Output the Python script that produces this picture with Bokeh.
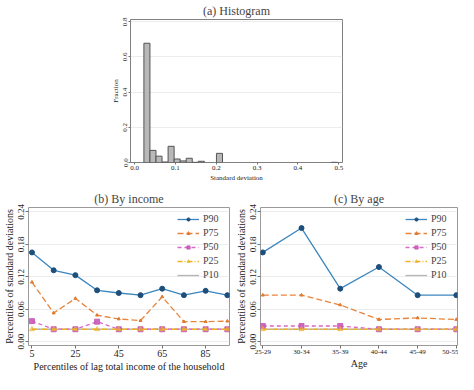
from bokeh.plotting import figure
from bokeh.layouts import column, row
from bokeh.models import FixedTicker, NumeralTickFormatter, Legend, LegendItem, Range1d
from bokeh.embed import file_html
from bokeh.resources import INLINE

SERIF = "Liberation Serif"

# ---------------- data ----------------
hist_left = [0.0228, 0.0376, 0.0524, 0.0672, 0.0820, 0.0968, 0.1116, 0.1264, 0.1412, 0.1560, 0.2004, 0.4816]
hist_right = [0.0376, 0.0524, 0.0672, 0.0820, 0.0968, 0.1116, 0.1264, 0.1412, 0.1560, 0.1708, 0.2152, 0.4964]
hist_frac = [0.678, 0.069, 0.036, 0.003, 0.092, 0.020, 0.009, 0.024, 0.001, 0.007, 0.052, 0.001]

income_pct = [5, 15, 25, 35, 45, 55, 65, 75, 85, 95]
inc_p90 = [0.165, 0.132, 0.123, 0.095, 0.090, 0.086, 0.098, 0.086, 0.094, 0.086]
inc_p75 = [0.110, 0.053, 0.080, 0.049, 0.042, 0.039, 0.083, 0.037, 0.037, 0.038]
inc_p50 = [0.038, 0.023, 0.023, 0.037, 0.023, 0.023, 0.023, 0.023, 0.023, 0.023]
inc_p25 = [0.023, 0.023, 0.023, 0.023, 0.023, 0.023, 0.023, 0.023, 0.023, 0.023]
inc_p10 = [0.023, 0.023, 0.023, 0.023, 0.023, 0.023, 0.023, 0.023, 0.023, 0.023]

age_groups = ["25-29", "30-34", "35-39", "40-44", "45-49", "50-55"]
age_p90 = [0.165, 0.210, 0.098, 0.138, 0.086, 0.086]
age_p75 = [0.086, 0.086, 0.068, 0.041, 0.044, 0.041]
age_p50 = [0.029, 0.029, 0.029, 0.023, 0.023, 0.023]
age_p25 = [0.023, 0.023, 0.023, 0.023, 0.023, 0.023]
age_p10 = [0.023, 0.023, 0.023, 0.023, 0.023, 0.023]

series_names = ["P90", "P75", "P50", "P25", "P10"]
y_ticks = [0.0, 0.06, 0.12, 0.18, 0.24]

# ---------------- styles ----------------
STY = {
    "P90": dict(color="#3c86bf", mcolor="#1d4f7a", dash="solid", marker="circle", size=5, alpha=1.0),
    "P75": dict(color="#e8843c", mcolor="#e07a30", dash="6 3", marker="triangle", size=3, alpha=1.0),
    "P50": dict(color="#d867c8", mcolor="#c95ab8", dash="4 3", marker="square", size=5, alpha=0.9),
    "P25": dict(color="#f0b323", mcolor="#e8b030", dash="5 2 1 2", marker="triangle", size=5, alpha=0.6),
    "P10": dict(color="#b5b5b5", mcolor="#b5b5b5", dash="solid", marker=None, size=4, alpha=1.0),
}
draw_order = ["P10", "P50", "P25", "P75", "P90"]


def style_common(p, tick_font, label_font):
    p.background_fill_color = "white"
    p.border_fill_color = "white"
    p.outline_line_color = "#9a9a9a"
    p.outline_line_width = 1
    p.title.text_font = SERIF
    p.title.text_font_style = "normal"
    p.title.text_font_size = "12px"
    p.title.align = "center"
    p.title.standoff = 3
    p.xgrid.grid_line_color = None
    p.ygrid.grid_line_color = "#ececec"
    for ax in (p.xaxis[0], p.yaxis[0]):
        ax.axis_line_color = None
        ax.major_tick_line_color = "#707070"
        ax.major_tick_in = 0
        ax.major_tick_out = 3
        ax.minor_tick_line_color = None
        ax.major_label_text_font = SERIF
        ax.major_label_text_font_size = tick_font
        ax.major_label_standoff = 1
        ax.axis_label_text_font = SERIF
        ax.axis_label_text_font_style = "normal"
        ax.axis_label_text_font_size = label_font
        ax.axis_label_standoff = 1
        ax.major_label_text_color = "#222222"
        ax.axis_label_text_color = "#222222"
    p.yaxis[0].major_label_orientation = "vertical"


# ---------------- (a) histogram ----------------
ph = figure(width=458, height=188, output_backend="svg", toolbar_location=None,
            title="(a) Histogram", x_range=Range1d(-0.01, 0.509), y_range=Range1d(0, 0.813),
            min_border_left=130, min_border_right=116, min_border_top=6, min_border_bottom=26)
style_common(ph, "7px", "7px")
ph.outline_line_color = "#808080"
ph.quad(left=hist_left, right=hist_right, bottom=0, top=hist_frac,
        fill_color="#b8b8b8", line_color="#555555", line_width=1)
ph.xaxis.ticker = FixedTicker(ticks=[0.0, 0.1, 0.2, 0.3, 0.4, 0.5])
ph.yaxis.ticker = FixedTicker(ticks=[0.0, 0.2, 0.4, 0.6, 0.8])
ph.xaxis.formatter = NumeralTickFormatter(format="0.0")
ph.yaxis.formatter = NumeralTickFormatter(format="0.0")
ph.xaxis.axis_label = "Standard deviation"
ph.yaxis.axis_label = "Fraction"
ph.xaxis.major_tick_out = 2
ph.yaxis.major_tick_out = 2


def line_panel(title, xs, data, x_range, x_label, width, mbl, mbr):
    p = figure(width=width, height=186, output_backend="svg", toolbar_location=None,
               title=title, x_range=x_range, y_range=Range1d(-0.007, 0.248),
               min_border_left=mbl, min_border_right=mbr, min_border_top=4, min_border_bottom=0)
    style_common(p, "9px", "10px")
    rmap = {}
    for name in draw_order:
        s = STY[name]
        rs = []
        r = p.line(xs, data[name], line_color=s["color"], line_width=1.3, line_dash=s["dash"])
        rs.append(r)
        if s["marker"] is not None:
            m = p.scatter(xs, data[name], marker=s["marker"], size=s["size"],
                          fill_color=s["mcolor"], line_color=s["mcolor"],
                          fill_alpha=s["alpha"], line_alpha=s["alpha"])
            rs.append(m)
        rmap[name] = rs
    items = [LegendItem(label=n, renderers=rmap[n]) for n in series_names]
    leg = Legend(items=items, location="top_right")
    leg.border_line_color = None
    leg.background_fill_alpha = 0
    leg.label_text_font = SERIF
    leg.label_text_font_size = "10px"
    leg.label_height = 8
    leg.glyph_height = 8
    leg.glyph_width = 22
    leg.spacing = 3
    leg.padding = 2
    leg.margin = 6
    leg.label_standoff = 4
    p.add_layout(leg)
    p.yaxis.ticker = FixedTicker(ticks=y_ticks)
    p.yaxis.formatter = NumeralTickFormatter(format="0.00")
    p.yaxis.axis_label = "Percentiles of standard deviations"
    p.xaxis.axis_label = x_label
    return p


inc_data = {"P90": inc_p90, "P75": inc_p75, "P50": inc_p50, "P25": inc_p25, "P10": inc_p10}
pb = line_panel("(b) By income", income_pct, inc_data, Range1d(3.4, 96.0),
                "Percentiles of lag total income of the household", 232, 22, 3)
pb.xaxis.ticker = FixedTicker(ticks=[5, 25, 45, 65, 85])
pb.xaxis.major_label_text_font_size = "10px"

age_x = list(range(len(age_groups)))
age_data = {"P90": age_p90, "P75": age_p75, "P50": age_p50, "P25": age_p25, "P10": age_p10}
pc = line_panel("(c) By age", age_x, age_data, Range1d(-0.06, 5.03), "Age", 226, 26, 1)
pc.xaxis.ticker = FixedTicker(ticks=age_x)
pc.xaxis.major_label_overrides = {i: g for i, g in enumerate(age_groups)}
pc.xaxis.major_label_text_font_size = "7px"

layout = column(ph, row(pb, pc, spacing=0), spacing=0)
open("out.html", "w").write(file_html(layout, INLINE))
